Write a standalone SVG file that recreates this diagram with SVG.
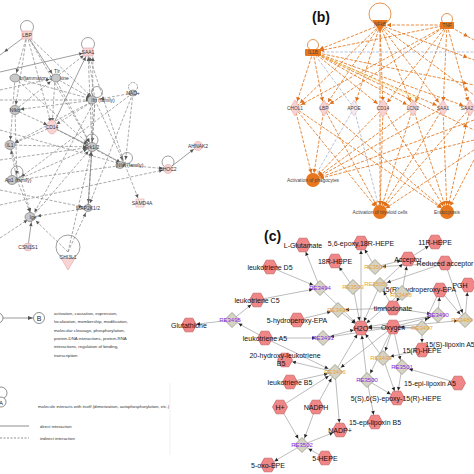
<svg xmlns="http://www.w3.org/2000/svg" width="474" height="474" viewBox="0 0 474 474">
<style>
.ad{stroke:#858585;stroke-width:0.7;stroke-dasharray:3,1.6;fill:none;marker-end:url(#ga)}
.as{stroke:#757575;stroke-width:0.7;fill:none;marker-end:url(#ga)}
.od{stroke:#e47f2c;stroke-width:0.9;stroke-dasharray:3.2,1.5;fill:none;marker-end:url(#oa)}
.bd{stroke:#9aa6c8;stroke-width:0.7;stroke-dasharray:3,1.5;fill:none}
.ce{stroke:#8f8f8f;stroke-width:0.6;fill:none;marker-end:url(#ka)}
.gn{fill:#c9c9c9;stroke:#6e6e6e;stroke-width:0.6}
.pn{fill:#f7d3d3;stroke:#e0a4a4;stroke-width:0.6}
.lp{fill:none;stroke:#777;stroke-width:0.7}
.la{font-family:'Liberation Sans',Arial,sans-serif;font-size:5px;fill:#333;text-anchor:middle}
.lb{font-family:'Liberation Sans',Arial,sans-serif;font-size:4.8px;fill:#444;text-anchor:middle}
.hex{fill:#f08686;stroke:#c46060;stroke-width:0.7}
.dia{fill:#d8d4c4;stroke:#8a8a80;stroke-width:0.7}
.lc{font-family:'Liberation Sans',Arial,sans-serif;font-size:7px;fill:#111;text-anchor:middle}
.pu{font-family:'Liberation Sans',Arial,sans-serif;font-size:6px;fill:#8a2be2;text-anchor:middle}
.or{font-family:'Liberation Sans',Arial,sans-serif;font-size:6px;fill:#e8a23a;text-anchor:middle}
.lg{font-family:'Liberation Sans',Arial,sans-serif;font-size:4.3px;fill:#333}
.tt{font-family:'Liberation Sans',Arial,sans-serif;font-size:14px;font-weight:bold;fill:#111}
</style>
<defs>
<marker id="ga" markerUnits="userSpaceOnUse" viewBox="-10 -3 10 6" refX="0" refY="0" markerWidth="10" markerHeight="6" orient="auto"><path d="M-9,-1.8 L-5.5,0 L-9,1.8 z" fill="#555"/></marker>
<marker id="oa" markerUnits="userSpaceOnUse" viewBox="-12 -3 12 6" refX="0" refY="0" markerWidth="12" markerHeight="6" orient="auto"><path d="M-11,-2.2 L-7,0 L-11,2.2 z" fill="#e06f18"/></marker>
<marker id="ka" markerUnits="userSpaceOnUse" viewBox="-12 -3 12 6" refX="0" refY="0" markerWidth="12" markerHeight="6" orient="auto"><path d="M-11,-1.8 L-7.5,0 L-11,1.8 z" fill="#222"/></marker>
<marker id="la" markerUnits="userSpaceOnUse" viewBox="0 -3 6 6" refX="5" refY="0" markerWidth="6" markerHeight="6" orient="auto"><path d="M0,-2 L5,0 L0,2 z" fill="#555"/></marker>
<polygon id="hx" class="hex" points="-7.5,0 -3.8,-6.8 3.8,-6.8 7.5,0 3.8,6.8 -3.8,6.8"/>
<polygon id="dm" class="dia" points="0,-7.5 7.5,0 0,7.5 -7.5,0"/>
</defs>
<rect width="474" height="474" fill="#fff"/>

<!-- ================= PANEL A ================= -->
<g id="a-connectors">
<path class="as" d="M27,35 L55,78"/>
<path class="ad" d="M27,35 L15,78"/>
<path class="ad" d="M27,35 L95,100"/>
<path class="ad" d="M27,35 L52,127"/>
<path class="ad" d="M27,35 L92,147"/>
<path class="as" d="M27,35 L0,55"/>
<path class="ad" d="M27,35 L15,110"/>
<path class="as" d="M0,72 L88,52"/>
<path class="ad" d="M55,78 L88,52"/>
<path class="ad" d="M95,100 L88,52"/>
<path class="ad" d="M92,147 L88,52"/>
<path class="as" d="M52,127 L88,52"/>
<path class="ad" d="M125,165 L88,52"/>
<path class="ad" d="M92,147 L93,52"/>
<path class="ad" d="M55,78 L95,100"/>
<path class="ad" d="M55,78 L92,147"/>
<path class="ad" d="M15,110 L55,78"/>
<path class="ad" d="M15,78 L92,147"/>
<path class="ad" d="M15,78 L95,100"/>
<path class="ad" d="M133,93 L95,100"/>
<path class="ad" d="M133,93 L125,165"/>
<path class="ad" d="M133,93 L88,208"/>
<path class="ad" d="M133,93 L17,180"/>
<path class="ad" d="M95,100 L92,147"/>
<path class="ad" d="M95,100 L52,127"/>
<path class="ad" d="M95,100 L15,110"/>
<path class="ad" d="M95,100 L125,165"/>
<path class="ad" d="M95,100 L88,208"/>
<path class="ad" d="M95,100 L32,217"/>
<path class="as" d="M52,127 L92,147"/>
<path class="ad" d="M52,127 L10,145"/>
<path class="ad" d="M15,110 L52,127"/>
<path class="as" d="M92,147 L125,165"/>
<path class="ad" d="M10,145 L92,147"/>
<path class="ad" d="M17,180 L92,147"/>
<path class="ad" d="M32,217 L92,147"/>
<path class="as" d="M88,208 L92,147"/>
<path class="ad" d="M125,165 L140,203"/>
<path class="ad" d="M125,165 L168,169"/>
<path class="ad" d="M17,180 L125,165"/>
<path class="ad" d="M0,205 L168,169"/>
<path class="as" d="M168,169 L198,146"/>
<path class="ad" d="M88,208 L32,217"/>
<path class="as" d="M28,247 L32,217"/>
<path class="ad" d="M68,252 L32,217"/>
<path class="ad" d="M10,145 L32,217"/>
<path class="ad" d="M17,180 L32,217"/>
<path class="ad" d="M0,238 L32,217"/>
<path class="ad" d="M17,180 L10,145"/>
<path class="ad" d="M68,252 L92,147"/>
<path class="ad" d="M68,252 L88,208"/>
<path class="ad" d="M0,130 L125,165"/>
<path class="ad" d="M0,160 L92,147"/>
<path class="ad" d="M0,100 L95,100"/>
<path class="ad" d="M0,190 L88,208"/>
<path class="ad" d="M15,110 L17,180"/>
<path class="ad" d="M55,78 L52,127"/>
<path class="ad" d="M15,78 L10,145"/>
<path class="ad" d="M0,90 L55,78"/>
<path class="ad" d="M52,127 L125,165"/>
<path class="ad" d="M95,100 L10,145"/>
</g>
<g id="a-nodes">
<g id="n-LBP"><circle class="lp" cx="27" cy="27" r="6.5"/><rect class="pn" x="22" y="31" width="10" height="8"/><text class="la" x="27" y="37">LBP</text></g>
<g id="n-SAA1"><circle class="lp" cx="88" cy="44" r="6.5"/><rect class="pn" x="83" y="48" width="10" height="8"/><text class="la" x="88" y="54">SAA1</text></g>
<g id="n-INF"><ellipse class="gn" cx="15" cy="78" rx="5" ry="4"/><text class="la" x="44" y="80" text-anchor="end" font-size="4.8">Inflammatory Cytokine</text></g>
<g id="n-TLR"><ellipse class="gn" cx="56" cy="78" rx="4.5" ry="4"/><text class="la" x="57" y="73">Tlr</text></g>
<g id="n-NAD"><circle class="lp" cx="133" cy="87" r="4.5" stroke-dasharray="2,1"/><ellipse class="gn" cx="133" cy="93" rx="4" ry="3"/><text class="la" x="133" y="95">NAD+</text></g>
<g id="n-IFN"><circle class="lp" cx="97" cy="92" r="5.5"/><ellipse class="gn" cx="92" cy="100" rx="4.5" ry="4"/><text class="la" x="103" y="102">Ifn (family)</text></g>
<g id="n-NFK"><ellipse class="gn" cx="15" cy="110" rx="5" ry="4.5"/><text class="la" x="15" y="112">Nfkb</text></g>
<g id="n-CD14"><ellipse class="pn" cx="52" cy="127" rx="5" ry="7"/><text class="la" x="52" y="129">CD14</text></g>
<g id="n-ERK"><circle class="lp" cx="92" cy="140" r="6"/><ellipse class="gn" cx="92" cy="147" rx="5" ry="4.5"/><text class="la" x="92" y="149">Erk1/2</text></g>
<g id="n-IL1"><ellipse class="gn" cx="10" cy="145" rx="5" ry="4.5"/><text class="la" x="10" y="147">IL1</text></g>
<g id="n-FAM"><circle class="lp" cx="17" cy="172" r="6"/><ellipse class="gn" cx="12" cy="180" rx="5" ry="4.5"/><text class="la" x="18" y="182">Ap1 (family)</text></g>
<g id="n-NR"><circle class="lp" cx="127" cy="158" r="5.5"/><ellipse class="gn" cx="120" cy="165" rx="4" ry="3.5"/><text class="la" x="130" y="167">Nfat (family)</text></g>
<g id="n-MAP"><ellipse class="gn" cx="88" cy="208" rx="4" ry="3.5"/><text class="la" x="88" y="210">MAP2K1/2</text></g>
<g id="n-IGE"><ellipse class="gn" cx="30" cy="217" rx="5" ry="4.5"/><text class="la" x="33" y="219">Ige</text></g>
<g id="n-CSN"><ellipse class="pn" cx="28" cy="247" rx="4" ry="4"/><text class="la" x="28" y="249">CSN1S1</text></g>
<g id="n-SAMD"><rect class="pn" x="136" y="199" width="8" height="8" fill-opacity="0.5"/><text class="la" x="142" y="205">SAMD4A</text></g>
<g id="n-SHOC"><circle class="lp" cx="168" cy="162" r="6"/><circle class="pn" cx="168" cy="169" r="4.5"/><text class="la" x="168" y="171">SHOC2</text></g>
<g id="n-AHNAK"><circle class="pn" cx="198" cy="146" r="4.5"/><text class="la" x="198" y="148">AHNAK2</text></g>
<g id="n-CHI"><circle class="lp" cx="68" cy="247" r="12"/><polygon class="pn" points="61,258 75,258 68,270"/><text class="la" x="68" y="259">CHI3L1</text></g>
</g>

<!-- ================= PANEL B ================= -->
<text class="tt" x="312" y="22">(b)</text>
<g id="b-connectors">
<path class="bd" d="M313,52 L474,52"/>
<path class="bd" d="M354,108 L313,180"/>
<path class="bd" d="M354,108 L380,212"/>
<path class="bd" d="M313,52 L354,108"/>
<path class="od" d="M380,25 L313,52"/>
<path class="od" d="M447,25 L313,52"/>
<path class="od" d="M447,25 L380,25"/>
<path class="od" d="M313,52 L295,108"/>
<path class="od" d="M313,52 L324,108"/>
<path class="od" d="M313,52 L383,108"/>
<path class="od" d="M313,52 L413,108"/>
<path class="od" d="M313,52 L443,108"/>
<path class="od" d="M313,52 L470,108"/>
<path class="od" d="M313,52 L474,85"/>
<path class="od" d="M313,52 L474,130"/>
<path class="od" d="M380,25 L295,108"/>
<path class="od" d="M380,25 L324,108"/>
<path class="od" d="M380,25 L354,108"/>
<path class="od" d="M380,25 L383,108"/>
<path class="od" d="M380,25 L413,108"/>
<path class="od" d="M380,25 L443,108"/>
<path class="od" d="M380,25 L474,95"/>
<path class="od" d="M380,25 L474,60"/>
<path class="od" d="M447,25 L295,108"/>
<path class="od" d="M447,25 L324,108"/>
<path class="od" d="M447,25 L383,108"/>
<path class="od" d="M447,25 L413,108"/>
<path class="od" d="M447,25 L443,108"/>
<path class="od" d="M447,25 L470,108"/>
<path class="od" d="M447,25 L474,40"/>
<path class="od" d="M380,25 L380,212"/>
<path class="od" d="M295,108 L313,180"/>
<path class="od" d="M324,108 L313,180"/>
<path class="od" d="M383,108 L313,180"/>
<path class="od" d="M413,108 L313,180"/>
<path class="od" d="M443,108 L313,180"/>
<path class="od" d="M474,120 L313,180"/>
<path class="od" d="M474,140 L313,180"/>
<path class="od" d="M295,108 L380,212"/>
<path class="od" d="M324,108 L380,212"/>
<path class="od" d="M383,108 L380,212"/>
<path class="od" d="M413,108 L380,212"/>
<path class="od" d="M443,108 L380,212"/>
<path class="od" d="M470,108 L380,212"/>
<path class="od" d="M474,150 L380,212"/>
<path class="od" d="M324,108 L447,212"/>
<path class="od" d="M383,108 L447,212"/>
<path class="od" d="M413,108 L447,212"/>
<path class="od" d="M443,108 L447,212"/>
<path class="od" d="M470,108 L447,212"/>
<path class="od" d="M295,108 L447,212"/>
<path class="od" d="M474,160 L447,212"/>
<path d="M313,52 L420,100" stroke="#e8e070" stroke-width="0.6" fill="none"/>
</g>
<g id="b-nodes">
<g id="b-T1"><circle cx="380" cy="14" r="11" fill="none" stroke="#e08a40" stroke-width="0.9"/><polygon points="372,20 388,20 380,32" fill="#e8761c"/><text class="lb" x="380" y="26" fill="#fff">NFkB</text></g>
<g id="b-T2"><circle cx="447" cy="19" r="5.5" fill="none" stroke="#e08a40" stroke-width="0.9"/><rect x="440" y="22" width="14" height="7" fill="#e8761c"/><text class="lb" x="447" y="27">TNF</text></g>
<g id="b-T3"><circle cx="313" cy="45" r="5.5" fill="none" stroke="#e08a40" stroke-width="0.9"/><rect x="305" y="49" width="16" height="7" rx="1" fill="#e8761c"/><text class="lb" x="313" y="54">IL1B</text></g>
<g id="b-P1"><polygon class="pn" points="295,100 300,108 295,116 290,108"/><text class="lb" x="295" y="110">CHOL1</text></g>
<g id="b-P2"><polygon class="pn" points="324,100 329,108 324,116 319,108"/><text class="lb" x="324" y="110">LBP</text></g>
<g id="b-P3"><polygon points="354,100 359,108 354,116 349,108" fill="#f2eaf0" stroke="#d8c8d0" stroke-width="0.6"/><text class="lb" x="354" y="110">APOE</text></g>
<g id="b-P4"><polygon class="pn" points="383,99 389,108 383,117 377,108"/><text class="lb" x="383" y="110">CD14</text></g>
<g id="b-P5"><polygon class="pn" points="413,100 418,108 413,116 408,108"/><text class="lb" x="413" y="110">LCN2</text></g>
<g id="b-P6"><polygon class="pn" points="443,100 448,108 443,116 438,108"/><text class="lb" x="443" y="110">SAA1</text></g>
<g id="b-P7"><polygon class="pn" points="470,100 475,108 470,116 465,108"/><text class="lb" x="467" y="110" text-anchor="start">SAA2</text></g>
<g id="b-F1"><circle cx="313" cy="180" r="7" fill="#e8761c"/><text class="lb" x="313" y="182" fill="#222">Activation of phagocytes</text></g>
<g id="b-F2"><circle cx="380" cy="212" r="7" fill="#e8761c"/><text class="lb" x="380" y="214" fill="#222">Activation of myeloid cells</text></g>
<g id="b-F3"><circle cx="447" cy="212" r="7" fill="#e8761c"/><text class="lb" x="447" y="214" fill="#222">Endocytosis</text></g>
</g>

<!-- ================= LEGEND ================= -->
<g id="legend">
<circle cx="-2" cy="318" r="5" fill="none" stroke="#444" stroke-width="0.6"/>
<line x1="3" y1="318" x2="33" y2="318" stroke="#555" stroke-width="0.6" marker-end="url(#la)"/>
<circle cx="39" cy="318" r="5.5" fill="none" stroke="#444" stroke-width="0.6"/>
<text x="39" y="320.5" font-family="Liberation Sans,Arial,sans-serif" font-size="7" text-anchor="middle" fill="#222">B</text>
<text class="lg"><tspan x="54" y="315">activation, causation, expression,</tspan><tspan x="54" y="323.3">localization, membership, modification,</tspan><tspan x="54" y="331.6">molecular cleavage, phosphorylation,</tspan><tspan x="54" y="339.9">protein-DNA interactions, protein-RNA</tspan><tspan x="54" y="348.2">interactions, regulation of binding,</tspan><tspan x="54" y="356.5">transcription</tspan></text>
<circle cx="1" cy="393" r="6" fill="none" stroke="#444" stroke-width="0.6"/>
<circle cx="1" cy="402" r="5" fill="#fff" stroke="#444" stroke-width="0.6"/>
<text x="1" y="404.5" font-family="Liberation Sans,Arial,sans-serif" font-size="6" text-anchor="middle" fill="#222">A</text>
<text class="lg" x="38" y="408" font-size="3.6">molecule interacts with itself (dimerization, autophosphorylation, etc.)</text>
<line x1="0" y1="426" x2="29" y2="426" stroke="#444" stroke-width="0.6"/>
<text class="lg" x="40" y="428" font-size="3.8">direct interaction</text>
<line x1="0" y1="438" x2="29" y2="438" stroke="#444" stroke-width="0.6" stroke-dasharray="2,1.5"/>
<text class="lg" x="40" y="440" font-size="3.8">indirect interaction</text>
<line x1="170" y1="383" x2="170" y2="455" stroke="#e6e6e6" stroke-width="0.6"/>
</g>

<!-- ================= PANEL C ================= -->
<text class="tt" x="264" y="241">(c)</text>
<g id="c-connectors">
<path class="ce" d="M320,288 L303,245"/>
<path class="ce" d="M270,267 L320,288"/>
<path class="ce" d="M257,300 L320,288"/>
<path class="ce" d="M320,288 L361,328"/>
<path class="ce" d="M232,320 L189,325"/>
<path class="ce" d="M232,320 L257,300"/>
<path class="ce" d="M265,338 L232,320"/>
<path class="ce" d="M265,338 L323,338"/>
<path class="ce" d="M323,338 L361,328"/>
<path class="ce" d="M393,327 L323,338"/>
<path class="ce" d="M297,320 L338,310"/>
<path class="ce" d="M338,310 L361,328"/>
<path class="ce" d="M393,308 L338,310"/>
<path class="ce" d="M353,287 L335,261"/>
<path class="ce" d="M353,287 L361,328"/>
<path class="ce" d="M375,267 L361,243"/>
<path class="ce" d="M375,267 L408,259"/>
<path class="ce" d="M445,263 L375,267"/>
<path class="ce" d="M380,285 L408,259"/>
<path class="ce" d="M445,263 L380,285"/>
<path class="ce" d="M380,285 L361,328"/>
<path class="ce" d="M393,308 L380,285"/>
<path class="ce" d="M402,292 L408,259"/>
<path class="ce" d="M408,259 L435,242"/>
<path class="ce" d="M402,292 L393,308"/>
<path class="ce" d="M402,292 L361,328"/>
<path class="ce" d="M438,315 L440,290"/>
<path class="ce" d="M393,308 L438,315"/>
<path class="ce" d="M393,327 L438,315"/>
<path class="ce" d="M438,315 L361,328"/>
<path class="ce" d="M465,320 L468,285"/>
<path class="ce" d="M440,290 L465,320"/>
<path class="ce" d="M445,263 L465,320"/>
<path class="ce" d="M393,327 L465,320"/>
<path class="ce" d="M422,328 L393,327"/>
<path class="ce" d="M422,328 L422,350"/>
<path class="ce" d="M440,290 L422,328"/>
<path class="ce" d="M422,328 L361,328"/>
<path class="ce" d="M290,382 L335,372"/>
<path class="ce" d="M335,372 L285,360"/>
<path class="ce" d="M280,407 L335,372"/>
<path class="ce" d="M316,407 L335,372"/>
<path class="ce" d="M335,372 L340,430"/>
<path class="ce" d="M335,372 L361,328"/>
<path class="ce" d="M393,327 L335,372"/>
<path class="ce" d="M265,338 L335,372"/>
<path class="ce" d="M422,350 L383,358"/>
<path class="ce" d="M383,358 L361,328"/>
<path class="ce" d="M393,327 L383,358"/>
<path class="ce" d="M383,358 L397,398"/>
<path class="ce" d="M458,383 L402,367"/>
<path class="ce" d="M402,367 L397,398"/>
<path class="ce" d="M393,327 L402,367"/>
<path class="ce" d="M367,380 L397,398"/>
<path class="ce" d="M367,380 L375,422"/>
<path class="ce" d="M367,380 L361,328"/>
<path class="ce" d="M393,327 L367,380"/>
<path class="ce" d="M280,407 L302,445"/>
<path class="ce" d="M316,407 L302,445"/>
<path class="ce" d="M302,445 L340,430"/>
<path class="ce" d="M302,445 L268,465"/>
<path class="ce" d="M325,458 L302,445"/>
<path class="ce" d="M361,328 L361,243"/>
<path class="ce" d="M393,327 L361,328"/>
</g>
<g id="c-nodes">
<g id="c-lglu"><use href="#hx" x="303" y="245"/><text class="lc" x="303" y="247.5">L-Glutamate</text></g>
<g id="c-56ep"><use href="#hx" x="361" y="243"/><text class="lc" x="361" y="245.5">5,6-epoxy,18R-HEPE</text></g>
<g id="c-11r"><use href="#hx" x="435" y="242"/><text class="lc" x="435" y="244.5">11R-HEPE</text></g>
<g id="c-18r"><use href="#hx" x="335" y="261"/><text class="lc" x="335" y="263.5">18R-HEPE</text></g>
<g id="c-ld5"><use href="#hx" x="270" y="267"/><text class="lc" x="270" y="269.5">leukotriene D5</text></g>
<g id="c-acc"><use href="#hx" x="408" y="259"/><text class="lc" x="408" y="261.5">Acceptor</text></g>
<g id="c-racc"><use href="#hx" x="445" y="263"/><text class="lc" x="445" y="265.5">Reduced acceptor</text></g>
<g id="c-pgh"><use href="#hx" x="468" y="285"/><text class="lc" x="460" y="287.5" text-anchor="start">PGH</text></g>
<g id="c-lc5"><use href="#hx" x="257" y="300"/><text class="lc" x="257" y="302.5">leukotriene C5</text></g>
<g id="c-5hp"><use href="#hx" x="297" y="320"/><text class="lc" x="297" y="322.5">5-hydroperoxy-EPA</text></g>
<g id="c-tim"><use href="#hx" x="393" y="308"/><text class="lc" x="393" y="310.5">timnodonate</text></g>
<g id="c-15rhp"><use href="#hx" x="440" y="290"/><text class="lc" x="419" y="292" text-anchor="start">15(R)-hydroperoxy-EPA</text></g>
<g id="c-h2o"><use href="#hx" x="361" y="328"/><text class="lc" x="361" y="330.5">H2O</text></g>
<g id="c-oxy"><use href="#hx" x="393" y="327"/><text class="lc" x="393" y="329.5">Oxygen</text></g>
<g id="c-glut"><use href="#hx" x="189" y="325"/><text class="lc" x="189" y="327.5">Glutathione</text></g>
<g id="c-la5"><use href="#hx" x="265" y="338"/><text class="lc" x="265" y="340.5">leukotriene A5</text></g>
<g id="c-20h"><use href="#hx" x="285" y="360"/><text class="lc" x="285" y="358">20-hydroxy-leukotriene</text><text class="lc" x="281" y="366">B5</text></g>
<g id="c-lb5"><use href="#hx" x="290" y="382"/><text class="lc" x="290" y="384.5">leukotriene B5</text></g>
<g id="c-15rh"><use href="#hx" x="422" y="350"/><text class="lc" x="422" y="352.5">15(R)-HEPE</text></g>
<g id="c-15sl"><text class="lc" x="450" y="346.5" text-anchor="start">15(S)-lipoxin A5</text></g>
<g id="c-15ea"><use href="#hx" x="458" y="383"/><text class="lc" x="430" y="385.5" text-anchor="start">15-epi-lipoxin A5</text></g>
<g id="c-5s6s"><use href="#hx" x="397" y="398"/><text class="lc" x="396" y="400.5">5(S),6(S)-epoxy-15(R)-HEPE</text></g>
<g id="c-15eb"><use href="#hx" x="375" y="422"/><text class="lc" x="375" y="424.5">15-epi-lipoxin B5</text></g>
<g id="c-hp"><use href="#hx" x="280" y="407"/><text class="lc" x="280" y="409.5">H+</text></g>
<g id="c-nadph"><use href="#hx" x="316" y="407"/><text class="lc" x="316" y="409.5">NADPH</text></g>
<g id="c-nadp"><use href="#hx" x="340" y="430"/><text class="lc" x="340" y="432.5">NADP+</text></g>
<g id="c-5oxo"><use href="#hx" x="268" y="465"/><text class="lc" x="268" y="467.5">5-oxo-EPE</text></g>
<g id="c-5h"><use href="#hx" x="325" y="458"/><text class="lc" x="325" y="460.5">5-HEPE</text></g>
<g id="c-r3494"><use href="#dm" x="320" y="288"/><text class="pu" x="320" y="290.3">RE3494</text></g>
<g id="c-r3495"><use href="#dm" x="232" y="320"/><text class="pu" x="230" y="322.3">RE3495</text></g>
<g id="c-r3491"><use href="#dm" x="323" y="338"/><text class="pu" x="323" y="340.3">RE3491</text></g>
<g id="c-r3492"><use href="#dm" x="338" y="310"/><text class="or" x="338" y="312.3">RE3492</text></g>
<g id="c-r3503"><use href="#dm" x="353" y="287"/><text class="or" x="353" y="289.3">RE3503</text></g>
<g id="c-r3504"><use href="#dm" x="375" y="267"/><text class="or" x="375" y="269.3">RE3504</text></g>
<g id="c-r3505"><use href="#dm" x="380" y="285"/><text class="or" x="375" y="286" font-size="5.8">RE3505</text></g>
<g id="c-r3488"><use href="#dm" x="402" y="293"/><text class="or" x="401" y="297" font-size="5.8">RE3488</text></g>
<g id="c-r3490"><use href="#dm" x="438" y="315"/><text class="pu" x="438" y="317.3">RE3490</text></g>
<g id="c-r3489"><use href="#dm" x="465" y="320"/><text class="or" x="462" y="322.3">RE3489</text></g>
<g id="c-r3497"><use href="#dm" x="422" y="328"/><text class="or" x="422" y="330.3">RE3497</text></g>
<g id="c-r3496"><use href="#dm" x="335" y="372"/><text class="or" x="335" y="374.3">RE3496</text></g>
<g id="c-r3499"><use href="#dm" x="383" y="358"/><text class="or" x="381" y="360.3">RE3499</text></g>
<g id="c-r3501"><use href="#dm" x="402" y="367"/><text class="pu" x="402" y="369.3">RE3501</text></g>
<g id="c-r3500"><use href="#dm" x="367" y="380"/><text class="pu" x="367" y="382.3">RE3500</text></g>
<g id="c-r3502"><use href="#dm" x="302" y="445"/><text class="pu" x="302" y="447.3">RE3502</text></g>
</g>
</svg>
